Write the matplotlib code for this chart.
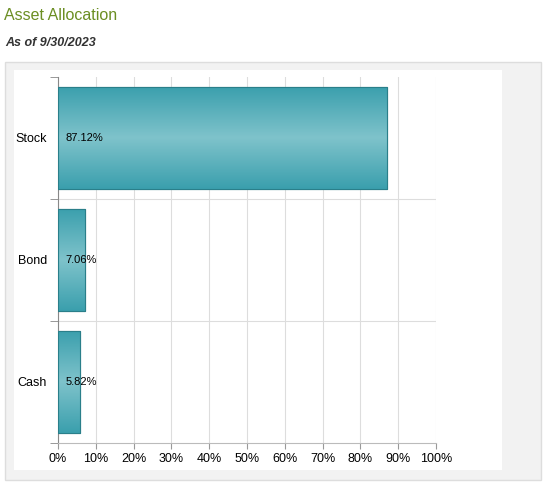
import matplotlib
matplotlib.use("Agg")
import matplotlib.pyplot as plt
import numpy as np
from matplotlib.patches import Rectangle
from matplotlib.colors import LinearSegmentedColormap

categories = ["Stock", "Bond", "Cash"]
values = [87.12, 7.06, 5.82]
labels = ["87.12%", "7.06%", "5.82%"]
xticks = list(range(0, 101, 10))

W, H = 550, 492
fig = plt.figure(figsize=(W/100, H/100), dpi=100)
fig.patch.set_facecolor("white")

fig.patches.append(Rectangle((5/W, 1-480/H), 536/W, 418/H, transform=fig.transFigure,
                             facecolor="#f2f2f2", edgecolor="#dddddd", lw=1, zorder=-2))
fig.patches.append(Rectangle((14/W, 1-470/H), 488/W, 400/H, transform=fig.transFigure,
                             facecolor="white", edgecolor="none", zorder=-1))

fig.text(4/W, 1-15/H, "Asset Allocation", color="#6b8e23", fontsize=11.5, va="center",
         family="Liberation Sans")
fig.text(5/W, 1-43/H, "As of 9/30/2023", color="#333333", fontsize=9, va="center",
         fontweight="bold", style="italic", family="Liberation Sans")

ax = fig.add_axes([58/W, 1-443/H, 378/W, 366/H])
ax.set_zorder(5)
ax.set_facecolor("none")
ys = np.arange(len(categories))
cmap = LinearSegmentedColormap.from_list("g", ["#3a9fad", "#7fc3cb", "#3a9fad"])
grad = np.linspace(0, 1, 256).reshape(-1, 1)
h = 0.84
bars = ax.barh(ys, values, height=h, color="#5ab2bd", edgecolor="#2a7f8a", lw=0.8, zorder=3)
for b in bars:
    x0, y0, w, hh = b.get_x(), b.get_y(), b.get_width(), b.get_height()
    im = ax.imshow(grad, extent=(x0, x0+w, y0+hh, y0), cmap=cmap, aspect="auto", zorder=3.5)
    im.set_clip_path(b)
    ax.add_patch(Rectangle((x0, y0), w, hh, fill=False, edgecolor="#2a7f8a", lw=0.8, zorder=4))
ax.set_xlim(0, 100)
ax.set_ylim(2.5, -0.5)
for y, lab in zip(ys, labels):
    ax.text(2, y, lab, va="center", ha="left", fontsize=8, color="black", zorder=5,
            family="Liberation Sans")

ax.set_xticks(xticks)
ax.set_xticklabels([f"{t}%" for t in xticks], fontsize=9, family="Liberation Sans")
ax.set_yticks(ys)
ax.set_yticklabels(categories, fontsize=9, family="Liberation Sans")
ax.tick_params(axis="y", length=0, pad=8)
ax.tick_params(axis="x", length=4, color="#999999")
ax.set_yticks([-0.5, 0.5, 1.5, 2.5], minor=True)
ax.tick_params(axis="y", which="minor", length=6, color="#888888")
for t in xticks:
    ax.axvline(t, color="#dddddd", lw=0.8, zorder=1)
for yb in [0.5, 1.5]:
    ax.axhline(yb, color="#dddddd", lw=0.8, zorder=1)
for s in ["top", "right"]:
    ax.spines[s].set_visible(False)
ax.spines["left"].set_color("#888888")
ax.spines["bottom"].set_color("#bbbbbb")
fig.savefig("out.png", dpi=100)
